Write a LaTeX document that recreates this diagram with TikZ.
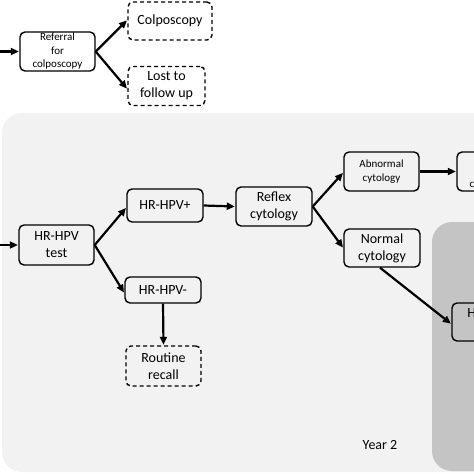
\documentclass[tikz,border=0pt]{standalone}
\usepackage{fontspec}
\setmainfont{Carlito}
\usetikzlibrary{arrows.meta}
\definecolor{lightbg}{RGB}{242,242,242}
\definecolor{darkbg}{RGB}{196,196,196}
\tikzset{
  box/.style={draw=black, line width=1.4pt, rounded corners=5pt, align=center, inner sep=1pt, font=\fontsize{14}{17}\selectfont},
  smallbox/.style={box, font=\fontsize{11}{13.5}\selectfont},
  endbox/.style={box, dashed, dash pattern=on 4pt off 3pt},
  arr/.style={-{Triangle[length=8pt,width=7pt]}, line width=2.2pt, shorten >=0.5pt},
  region/.style={rounded corners=20pt}
}
\begin{document}
\begin{tikzpicture}[x=1pt,y=-1pt]
\useasboundingbox (0,0) rectangle (474,474);
% background regions
\fill[lightbg, region] (2,113) rectangle (520,472);
\fill[darkbg, region] (432,222) rectangle (520,471);
\node[font=\fontsize{14}{17}\selectfont] (year2) at (380,445) {Year 2};
% top part
\node[smallbox, minimum width=75pt, minimum height=39pt] (ref1) at (57.5,51.5) {Referral\\for\\colposcopy};
\node[endbox, minimum width=84pt, minimum height=38pt] (colpo) at (170,21) {Colposcopy};
\node[endbox, minimum width=77pt, minimum height=39pt] (lost) at (166.5,86) {Lost to\\follow up};
\coordinate (in1) at (0,51.5);
\draw[arr] (in1) -- (ref1.west);
\draw[arr] (ref1.east) -- ([yshift=1pt]colpo.west);
\draw[arr] (ref1.east) -- ([yshift=-3pt]lost.west);
% year 2
\node[box, minimum width=75pt, minimum height=40pt] (test) at (56.5,245) {HR-HPV\\test};
\node[box, minimum width=76pt, minimum height=33pt] (pos) at (165,205.5) {HR-HPV+};
\node[box, minimum width=76pt, minimum height=26pt] (neg) at (163,290) {HR-HPV-};
\node[endbox, minimum width=75pt, minimum height=40pt] (recall) at (163.5,366) {Routine\\recall};
\node[box, minimum width=76pt, minimum height=39pt] (reflex) at (274,206.5) {Reflex\\cytology};
\node[smallbox, minimum width=75pt, minimum height=39pt] (abn) at (381.5,171.5) {Abnormal\\cytology};
\node[box, minimum width=76pt, minimum height=38pt] (norm) at (382,248) {Normal\\cytology};
\node[smallbox, minimum width=75pt, minimum height=39pt] (ref2) at (494.5,171.5) {Referral\\for\\colposcopy};
\node[box, minimum width=75pt, minimum height=38pt] (test3) at (489.5,322) {HR-HPV\\test};
\coordinate (in2) at (0,245);
\draw[arr] (in2) -- (test.west);
\draw[arr] (test.east) -- ([yshift=-2pt]pos.west);
\draw[arr] (test.east) -- ([yshift=-3pt]neg.west);
\draw[arr] (pos.east) -- (reflex.west);
\draw[arr] (neg.south) -- (recall.north);
\draw[arr] (reflex.east) -- ([yshift=-1pt]abn.west);
\draw[arr] (reflex.east) -- (norm.west);
\draw[arr] (abn.east) -- (ref2.west);
\draw[arr] ([xshift=-2pt]norm.south) -- ([yshift=-2pt]test3.west);
\end{tikzpicture}
\end{document}
